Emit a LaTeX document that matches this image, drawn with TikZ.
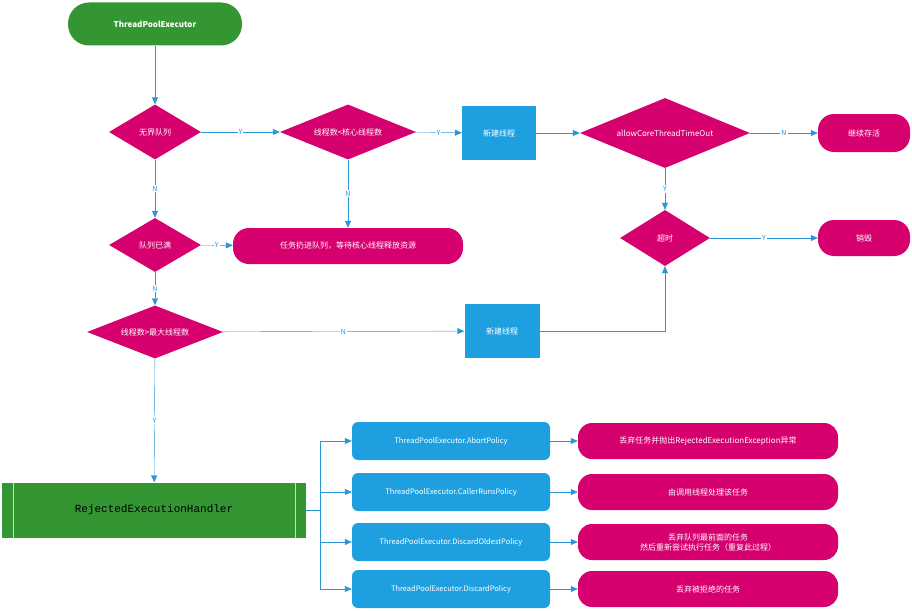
\documentclass[tikz,border=0pt]{standalone}
\usepackage{fontspec}
\setmainfont{Noto Sans CJK SC}
\newfontfamily\monofam{Liberation Mono}
\usetikzlibrary{shapes.geometric,arrows.meta,positioning}
\definecolor{rose}{RGB}{214,0,110}
\definecolor{sky}{RGB}{30,160,224}
\definecolor{wire}{RGB}{40,150,215}
\definecolor{leaf}{RGB}{52,150,50}
\tikzset{
  cond/.style = {diamond, aspect=1.8, fill=rose, text=white, font=\fontsize{8}{9}\selectfont, inner sep=0pt},
  pill/.style = {rectangle, rounded corners=13pt, fill=rose, text=white, font=\fontsize{8}{10}\selectfont, align=center},
  work/.style = {rectangle, fill=sky, text=white, font=\fontsize{8}{9}\selectfont},
  pol/.style  = {rectangle, rounded corners=6pt, fill=sky, text=white, minimum width=198pt, minimum height=38pt, font=\fontsize{7.5}{9}\selectfont},
  flow/.style = {draw=wire, -{Triangle[length=7pt,width=6pt]}},
  tag/.style  = {fill=white, inner sep=1pt, text=wire, font=\fontsize{7}{8}\selectfont}
}
\begin{document}
\begin{tikzpicture}[x=1pt, y=-1pt]
  \useasboundingbox (0,0) rectangle (912,610);

  % top row
  \node[pill, fill=leaf, minimum width=174pt, minimum height=43pt, rounded corners=21pt, font=\bfseries\fontsize{8}{9}\selectfont] (start) at (155,24) {ThreadPoolExecutor};
  \node[cond, minimum width=92pt, minimum height=55pt] (unbound) at (155,132) {无界队列};
  \node[cond, minimum width=136pt, minimum height=55pt] (core) at (348,132) {线程数<核心线程数};
  \node[work, minimum width=74pt, minimum height=54pt] (new1) at (499,133) {新建线程};
  \node[cond, minimum width=170pt, minimum height=70pt] (allow) at (665,133) {allowCoreThreadTimeOut};
  \node[pill, minimum width=92pt, minimum height=38pt, rounded corners=16pt] (alive) at (864,133) {继续存活};

  % middle rows
  \node[cond, minimum width=92pt, minimum height=54pt] (full) at (155,245) {队列已满};
  \node[pill, minimum width=230pt, minimum height=36pt, rounded corners=16pt] (queue) at (348,246) {任务扔进队列，等待核心线程释放资源};
  \node[cond, minimum width=90pt, minimum height=56pt] (timeout) at (665,238) {超时};
  \node[pill, minimum width=92pt, minimum height=36pt, rounded corners=16pt] (kill) at (864,238) {销毁};
  \node[cond, minimum width=136pt, minimum height=53pt] (max) at (155,332) {线程数>最大线程数};
  \node[work, minimum width=75pt, minimum height=54pt] (new2) at (502,331) {新建线程};

  % handler
  \node[fill=leaf, minimum width=304pt, minimum height=55pt, font=\monofam\fontsize{11}{12}\selectfont] (handler) at (154,510) {RejectedExecutionHandler};
  \draw[white!70!leaf, thick] (13,483) -- (13,538) (295,483) -- (295,538);

  \node[pol] (abort)   at (451,441) {ThreadPoolExecutor.AbortPolicy};
  \node[pol] (caller)  at (451,492) {ThreadPoolExecutor.CallerRunsPolicy};
  \node[pol] (oldest)  at (451,542) {ThreadPoolExecutor.DiscardOldestPolicy};
  \node[pol] (discard) at (451,589) {ThreadPoolExecutor.DiscardPolicy};

  \node[pill, minimum width=260pt, minimum height=36pt, rounded corners=14pt] (t1) at (708,441) {丢弃任务并抛出RejectedExecutionException异常};
  \node[pill, minimum width=260pt, minimum height=36pt, rounded corners=14pt] (t2) at (708,492) {由调用线程处理该任务};
  \node[pill, minimum width=260pt, minimum height=36pt, rounded corners=14pt] (t3) at (708,542) {丢弃队列最前面的任务\\然后重新尝试执行任务（重复此过程）};
  \node[pill, minimum width=260pt, minimum height=36pt, rounded corners=14pt] (t4) at (708,589) {丢弃被拒绝的任务};

  % connectors
  \draw[flow] (start) -- (unbound);
  \draw[flow] (unbound) -- node[tag] {Y} (core);
  \draw[flow] (core) -- node[tag] {Y} (new1);
  \draw[flow] (new1) -- (allow);
  \draw[flow] (allow) -- node[tag] {N} (alive);
  \draw[flow] (allow) -- node[tag] {Y} (timeout);
  \draw[flow] (timeout) -- node[tag] {Y} (kill);
  \draw[flow] (unbound) -- node[tag] {N} (full);
  \draw[flow] (core) -- node[tag] {N} (queue);
  \draw[flow] (full) -- node[tag] {Y} (queue);
  \draw[flow] (full) -- node[tag] {N} (max);
  \draw[flow] (max) -- node[tag] {N} (new2);
  \draw[flow] (new2) -| (timeout);
  \draw[flow] (max) -- node[tag] {Y} (handler);
  \foreach \p/\t in {abort/t1, caller/t2, oldest/t3, discard/t4} {
    \draw[flow] (handler.east) -- ++(14,0) |- (\p);
    \draw[flow] (\p) -- (\t);
  }
\end{tikzpicture}
\end{document}
